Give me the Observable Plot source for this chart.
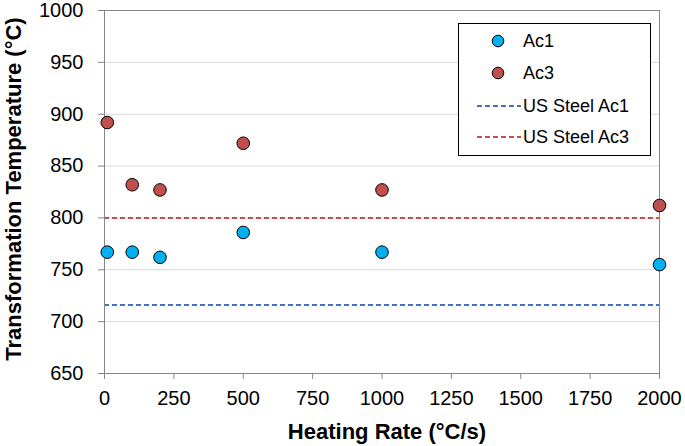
<!DOCTYPE html>
<html>
<head>
<meta charset="utf-8">
<script src="https://cdn.jsdelivr.net/npm/d3@7"></script>
<script src="https://cdn.jsdelivr.net/npm/@observablehq/plot@0.6"></script>
<style>
  html, body { margin: 0; padding: 0; background: #fff; }
  #wrap { position: relative; width: 685px; height: 446px; font-family: "Liberation Sans", Arial, sans-serif; }
  #legend { position: absolute; left: 458px; top: 23px; width: 193px; height: 133px; box-sizing: border-box; border: 1px solid #000; background: #fff; }
</style>
</head>
<body>
<div id="wrap"><div id="legend"></div></div>
<script>
// Data
const heatingRate = [10, 100, 200, 500, 1000, 2000];
const ac1Values = [767, 767, 762, 786, 767, 755];
const ac3Values = [892, 832, 827, 872, 827, 812];
const usSteelAc1 = 716;
const usSteelAc3 = 800;
const xTicks = [0, 250, 500, 750, 1000, 1250, 1500, 1750, 2000];
const yTicks = [650, 700, 750, 800, 850, 900, 950, 1000];
const xTitle = "Heating Rate (°C/s)";
const yTitle = "Transformation Temperature (°C)";
const seriesNames = ["Ac1", "Ac3", "US Steel Ac1", "US Steel Ac3"];

const colAc1 = "#00b0f0", colAc3 = "#c0504d", colLine1 = "#4472c4", colLine3 = "#c0504d";
const axisGray = "#868686";

const ac1 = heatingRate.map((x, i) => ({x, y: ac1Values[i]}));
const ac3 = heatingRate.map((x, i) => ({x, y: ac3Values[i]}));

const chart = Plot.plot({
  width: 685,
  height: 446,
  marginLeft: 104,
  marginRight: 26,
  marginTop: 10,
  marginBottom: 73,
  style: {fontFamily: "Liberation Sans, Arial, sans-serif", background: "transparent", color: "#000", overflow: "visible"},
  x: {domain: [0, 2000]},
  y: {domain: [650, 1000]},
  marks: [
    Plot.gridY(yTicks, {stroke: "#d9d9d9", strokeOpacity: 1, strokeWidth: 1}),
    Plot.ruleY([usSteelAc1], {stroke: colLine1, strokeWidth: 2, strokeDasharray: "5,3"}),
    Plot.ruleY([usSteelAc3], {stroke: colLine3, strokeWidth: 2, strokeDasharray: "5,3"}),
    Plot.frame({stroke: axisGray, strokeWidth: 1}),
    Plot.axisY({ticks: yTicks, tickFormat: d => String(d), tickSize: 6, tickPadding: 15, fontSize: 20, label: null, stroke: axisGray, color: "#000"}),
    Plot.axisX({ticks: xTicks, tickFormat: d => String(d), tickSize: 6, tickPadding: 11, fontSize: 20, label: null, stroke: axisGray}),
    Plot.dot(ac1, {x: "x", y: "y", r: 6.3, fill: colAc1, stroke: "#000", strokeWidth: 1}),
    Plot.dot(ac3, {x: "x", y: "y", r: 6.3, fill: colAc3, stroke: "#000", strokeWidth: 1}),
    Plot.text([xTitle], {frameAnchor: "bottom", lineAnchor: "middle", textAnchor: "middle", dy: 58, dx: 5, fontSize: 22, fontWeight: "bold", fill: "#000"}),
    Plot.text([yTitle], {frameAnchor: "left", textAnchor: "middle", lineAnchor: "middle", dx: -91, dy: -3, rotate: -90, fontSize: 22, fontWeight: "bold", fill: "#000"})
  ]
});
chart.style.position = "absolute";
chart.style.left = "0";
chart.style.top = "0";
document.getElementById("wrap").insertBefore(chart, document.getElementById("legend"));

// Legend
const ns = "http://www.w3.org/2000/svg";
const lsvg = document.createElementNS(ns, "svg");
lsvg.setAttribute("width", 191);
lsvg.setAttribute("height", 131);
lsvg.style.display = "block";
const rows = [
  {name: seriesNames[0], type: "dot", color: colAc1, y: 17},
  {name: seriesNames[1], type: "dot", color: colAc3, y: 49},
  {name: seriesNames[2], type: "line", color: colLine1, y: 82},
  {name: seriesNames[3], type: "line", color: colLine3, y: 113}
];
rows.forEach(r => {
  if (r.type === "dot") {
    const c = document.createElementNS(ns, "circle");
    c.setAttribute("cx", 39); c.setAttribute("cy", r.y); c.setAttribute("r", 5.8);
    c.setAttribute("fill", r.color); c.setAttribute("stroke", "#000"); c.setAttribute("stroke-width", 1);
    lsvg.appendChild(c);
  } else {
    const l = document.createElementNS(ns, "line");
    l.setAttribute("x1", 18); l.setAttribute("x2", 62); l.setAttribute("y1", r.y); l.setAttribute("y2", r.y);
    l.setAttribute("stroke", r.color); l.setAttribute("stroke-width", 2); l.setAttribute("stroke-dasharray", "5,3");
    lsvg.appendChild(l);
  }
  const t = document.createElementNS(ns, "text");
  t.setAttribute("x", 64); t.setAttribute("y", r.y);
  t.setAttribute("dy", "0.35em");
  t.setAttribute("font-size", 18);
  t.setAttribute("font-family", "Liberation Sans, Arial, sans-serif");
  t.textContent = r.name;
  lsvg.appendChild(t);
});
document.getElementById("legend").appendChild(lsvg);
</script>
</body>
</html>
